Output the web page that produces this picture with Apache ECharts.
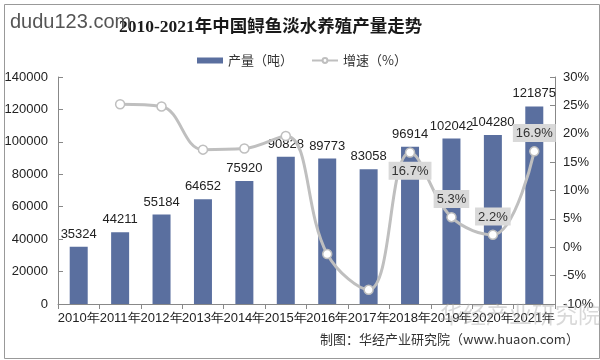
<!DOCTYPE html>
<html><head><meta charset="utf-8">
<script src="https://cdn.jsdelivr.net/npm/echarts@6/dist/echarts.min.js"></script>
<style>html,body{margin:0;padding:0;background:#fff}#c{width:600px;height:360px}</style>
</head><body><div id="c"></div>
<script>
var categories = ['2010年','2011年','2012年','2013年','2014年','2015年','2016年','2017年','2018年','2019年','2020年','2021年'];
var production = [35324, 44211, 55184, 64652, 75920, 90828, 89773, 83058, 96914, 102042, 104280, 121875];
var growth = [null, 25.2, 24.8, 17.2, 17.4, 19.6, -1.2, -7.5, 16.7, 5.3, 2.2, 16.9];
var labeledYears = ['2018年','2019年','2020年','2021年'];
var leftTicks = [0, 140000, 20000];
var rightTicks = [-10, 30, 5];

var chart = echarts.init(document.getElementById('c'));
var growthData = growth.map(function(v, i){
  var d = {value: v};
  if (labeledYears.indexOf(categories[i]) >= 0) {
    d.label = {show: true, position: categories[i] === '2018年' ? 'bottom' : 'top', distance: 4,
      formatter: function(p){ return p.value.toFixed(1) + '%'; },
      backgroundColor: '#d9d9d9', padding: [3, 3, 2, 3], color: '#333', fontSize: 13,
      fontFamily: 'Liberation Sans, Arial'};
  }
  return d;
});
chart.setOption({
  animation: false,
  backgroundColor: '#fff',
  title: {text: '2010-2021年中国鲟鱼淡水养殖产量走势', left: 114, top: 14,
    textStyle: {fontSize: 17.5, fontWeight: 'bold', color: '#1a1a1a', fontFamily: 'Liberation Serif, Noto Sans CJK SC'}},
  legend: {left: 192, top: 49, itemGap: 18, itemWidth: 26, itemHeight: 6,
    textStyle: {fontSize: 13, color: '#333', fontFamily: 'Noto Sans CJK SC'},
    data: [{name: '产量（吨）', icon: 'rect'}, {name: '增速（%）'}]},
  grid: {left: 58, right: 45, top: 77, bottom: 56},
  xAxis: {type: 'category', data: categories, boundaryGap: true,
    axisLine: {lineStyle: {color: '#888'}}, axisTick: {show: true, lineStyle: {color: '#888'}},
    axisLabel: {interval: 0, fontSize: 13, color: '#222', margin: 8, fontFamily: 'Liberation Sans, Arial'}},
  yAxis: [
    {type: 'value', min: leftTicks[0], max: leftTicks[1], interval: leftTicks[2],
      axisLine: {show: true, lineStyle: {color: '#888'}}, axisTick: {show: true, inside: true, lineStyle: {color: '#888'}},
      splitLine: {show: false},
      axisLabel: {formatter: function(v){ return String(v); }, fontSize: 13, color: '#222', margin: 10, fontFamily: 'Liberation Sans, Arial'}},
    {type: 'value', min: rightTicks[0], max: rightTicks[1], interval: rightTicks[2], alignTicks: false,
      axisLine: {show: true, lineStyle: {color: '#888'}}, axisTick: {show: true, inside: true, lineStyle: {color: '#888'}},
      splitLine: {show: false},
      axisLabel: {formatter: '{value}%', fontSize: 13, color: '#222', margin: 8, fontFamily: 'Liberation Sans, Arial'}}
  ],
  series: [
    {name: '产量（吨）', type: 'bar', data: production, barWidth: 18,
      itemStyle: {color: '#5a6f9f'},
      label: {show: true, position: 'top', distance: 6, fontSize: 13, color: '#222', fontFamily: 'Liberation Sans, Arial'}},
    {name: '增速（%）', type: 'line', yAxisIndex: 1, data: growthData, smooth: 0.4,
      lineStyle: {color: '#bfbfbf', width: 3},
      symbol: 'circle', symbolSize: 9,
      itemStyle: {color: '#fff', borderColor: '#bfbfbf', borderWidth: 1.5}}
  ],
  graphic: [
    {type: 'rect', left: 2, top: 2, shape: {width: 595, height: 354}, style: {fill: 'none', stroke: '#999', lineWidth: 1}, z: 100},
    {type: 'text', left: 10, top: 12, style: {text: 'dudu123.com', fontSize: 20, fill: '#555', fontFamily: 'Liberation Sans, Arial'}, z: 100},
    {type: 'text', left: 440, top: 303, style: {text: '华经产业研究院', fontSize: 23, fill: 'rgba(170,170,170,0.45)', fontFamily: 'Noto Sans CJK SC'}, z: 100},
    {type: 'text', left: 320, top: 333, style: {text: '制图：华经产业研究院（www.huaon.com）', fontSize: 13, fill: '#333', fontFamily: 'Noto Sans CJK SC'}, z: 100}
  ]
});
</script></body></html>
